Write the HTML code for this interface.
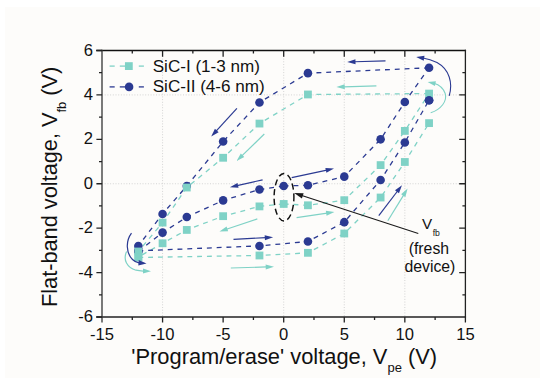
<!DOCTYPE html><html><head><meta charset="utf-8"><style>
html,body{margin:0;padding:0;background:#fff;}
body{width:550px;height:389px;overflow:hidden;position:relative;}
svg{position:absolute;left:0;top:0;}
text{font-family:"Liberation Sans",sans-serif;fill:#111;}
</style></head><body>
<svg width="550" height="389" viewBox="0 0 550 389">
<rect x="0" y="0" width="550" height="389" fill="#ffffff"/>
<rect x="5" y="7" width="535" height="371" fill="#fdfcfa"/>
<line x1="162.57" y1="50.5" x2="162.57" y2="317.0" stroke="#cdcdcd" stroke-width="0.85" stroke-dasharray="1 1.7"/>
<line x1="283.70" y1="50.5" x2="283.70" y2="317.0" stroke="#cdcdcd" stroke-width="0.85" stroke-dasharray="1 1.7"/>
<line x1="344.27" y1="50.5" x2="344.27" y2="317.0" stroke="#cdcdcd" stroke-width="0.85" stroke-dasharray="1 1.7"/>
<line x1="404.83" y1="50.5" x2="404.83" y2="317.0" stroke="#cdcdcd" stroke-width="0.85" stroke-dasharray="1 1.7"/>
<line x1="102.0" y1="94.92" x2="465.4" y2="94.92" stroke="#cdcdcd" stroke-width="0.85" stroke-dasharray="1 1.7"/>
<line x1="102.0" y1="183.75" x2="465.4" y2="183.75" stroke="#cdcdcd" stroke-width="0.85" stroke-dasharray="1 1.7"/>
<line x1="96.2" y1="50.5" x2="466.04999999999995" y2="50.5" stroke="#111" stroke-width="1.3"/>
<line x1="96.2" y1="317.0" x2="466.04999999999995" y2="317.0" stroke="#222" stroke-width="1.6"/>
<line x1="102.0" y1="49.85" x2="102.0" y2="322.6" stroke="#333" stroke-width="1.3"/>
<line x1="465.4" y1="49.85" x2="465.4" y2="322.6" stroke="#222" stroke-width="1.3"/>
<path d="M96.40 317.00H102.00M99.00 294.79H102.00M462.40 294.79H465.40M96.40 272.58H102.00M459.20 272.58H465.40M99.00 250.38H102.00M462.40 250.38H465.40M96.40 228.17H102.00M459.20 228.17H465.40M99.00 205.96H102.00M462.40 205.96H465.40M96.40 183.75H102.00M459.20 183.75H465.40M99.00 161.54H102.00M462.40 161.54H465.40M96.40 139.33H102.00M459.20 139.33H465.40M99.00 117.12H102.00M462.40 117.12H465.40M96.40 94.92H102.00M459.20 94.92H465.40M99.00 72.71H102.00M462.40 72.71H465.40M96.40 50.50H102.00M132.28 317.00V320.00M132.28 50.50V53.50M162.57 317.00V322.60M162.57 50.50V56.70M192.85 317.00V320.00M192.85 50.50V53.50M223.13 317.00V322.60M223.13 50.50V56.70M253.42 317.00V320.00M253.42 50.50V53.50M283.70 317.00V322.60M283.70 50.50V56.70M313.98 317.00V320.00M313.98 50.50V53.50M344.27 317.00V322.60M344.27 50.50V56.70M374.55 317.00V320.00M374.55 50.50V53.50M404.83 317.00V322.60M404.83 50.50V56.70M435.12 317.00V320.00M435.12 50.50V53.50" stroke="#222" stroke-width="1.3" fill="none"/>
<text x="93.1" y="322.15" font-size="16.6" text-anchor="end">-6</text>
<text x="93.1" y="277.73" font-size="16.6" text-anchor="end">-4</text>
<text x="93.1" y="233.32" font-size="16.6" text-anchor="end">-2</text>
<text x="93.1" y="188.90" font-size="16.6" text-anchor="end">0</text>
<text x="93.1" y="144.48" font-size="16.6" text-anchor="end">2</text>
<text x="93.1" y="100.07" font-size="16.6" text-anchor="end">4</text>
<text x="93.1" y="55.65" font-size="16.6" text-anchor="end">6</text>
<text x="102.00" y="339.6" font-size="16.6" text-anchor="middle">-15</text>
<text x="162.57" y="339.6" font-size="16.6" text-anchor="middle">-10</text>
<text x="223.13" y="339.6" font-size="16.6" text-anchor="middle">-5</text>
<text x="283.70" y="339.6" font-size="16.6" text-anchor="middle">0</text>
<text x="344.27" y="339.6" font-size="16.6" text-anchor="middle">5</text>
<text x="404.83" y="339.6" font-size="16.6" text-anchor="middle">10</text>
<text x="465.40" y="339.6" font-size="16.6" text-anchor="middle">15</text>
<polyline points="283.70,203.96 307.93,205.29 344.27,200.18 380.61,165.10 404.83,130.89 429.06,93.58" fill="none" stroke="#7fd2c6" stroke-width="1.3" stroke-dasharray="4.9 4.9"/>
<polyline points="429.06,93.58 307.93,94.47 259.47,123.57 223.13,157.77 186.79,187.53 162.57,222.61 138.34,251.49" fill="none" stroke="#7fd2c6" stroke-width="1.3" stroke-dasharray="4.9 4.9"/>
<polyline points="138.34,257.48 259.47,255.48 307.93,252.82 344.27,233.50 380.61,197.52 404.83,161.99 429.06,123.12" fill="none" stroke="#7fd2c6" stroke-width="1.3" stroke-dasharray="4.9 4.9"/>
<polyline points="283.70,203.96 259.47,206.40 223.13,216.17 186.79,229.94 162.57,243.27 138.34,257.04" fill="none" stroke="#7fd2c6" stroke-width="1.3" stroke-dasharray="4.9 4.9"/>
<polyline points="283.70,185.97 307.93,185.30 344.27,176.64 380.61,139.33 404.83,102.02 429.06,67.82" fill="none" stroke="#2b3a92" stroke-width="1.3" stroke-dasharray="4.9 4.9"/>
<polyline points="429.06,67.82 307.93,73.15 259.47,102.47 223.13,141.55 186.79,185.97 162.57,213.95 138.34,245.93" fill="none" stroke="#2b3a92" stroke-width="1.3" stroke-dasharray="4.9 4.9"/>
<polyline points="138.34,250.82 259.47,245.93 307.93,241.49 344.27,222.17 380.61,179.97 404.83,142.44 429.06,100.25" fill="none" stroke="#2b3a92" stroke-width="1.3" stroke-dasharray="4.9 4.9"/>
<polyline points="283.70,185.97 259.47,189.52 223.13,200.41 186.79,217.06 162.57,232.61 138.34,251.49" fill="none" stroke="#2b3a92" stroke-width="1.3" stroke-dasharray="4.9 4.9"/>
<circle cx="283.70" cy="185.97" r="4.3" fill="#2b3a92"/>
<circle cx="307.93" cy="185.30" r="4.3" fill="#2b3a92"/>
<circle cx="344.27" cy="176.64" r="4.3" fill="#2b3a92"/>
<circle cx="380.61" cy="139.33" r="4.3" fill="#2b3a92"/>
<circle cx="404.83" cy="102.02" r="4.3" fill="#2b3a92"/>
<circle cx="429.06" cy="67.82" r="4.3" fill="#2b3a92"/>
<circle cx="307.93" cy="73.15" r="4.3" fill="#2b3a92"/>
<circle cx="259.47" cy="102.47" r="4.3" fill="#2b3a92"/>
<circle cx="223.13" cy="141.55" r="4.3" fill="#2b3a92"/>
<circle cx="186.79" cy="185.97" r="4.3" fill="#2b3a92"/>
<circle cx="162.57" cy="213.95" r="4.3" fill="#2b3a92"/>
<circle cx="138.34" cy="245.93" r="4.3" fill="#2b3a92"/>
<circle cx="138.34" cy="250.82" r="4.3" fill="#2b3a92"/>
<circle cx="259.47" cy="245.93" r="4.3" fill="#2b3a92"/>
<circle cx="307.93" cy="241.49" r="4.3" fill="#2b3a92"/>
<circle cx="344.27" cy="222.17" r="4.3" fill="#2b3a92"/>
<circle cx="380.61" cy="179.97" r="4.3" fill="#2b3a92"/>
<circle cx="404.83" cy="142.44" r="4.3" fill="#2b3a92"/>
<circle cx="429.06" cy="100.25" r="4.3" fill="#2b3a92"/>
<circle cx="259.47" cy="189.52" r="4.3" fill="#2b3a92"/>
<circle cx="223.13" cy="200.41" r="4.3" fill="#2b3a92"/>
<circle cx="186.79" cy="217.06" r="4.3" fill="#2b3a92"/>
<circle cx="162.57" cy="232.61" r="4.3" fill="#2b3a92"/>
<circle cx="138.34" cy="251.49" r="4.3" fill="#2b3a92"/>
<rect x="279.80" y="200.06" width="7.8" height="7.8" fill="#7fd2c6"/>
<rect x="304.03" y="201.39" width="7.8" height="7.8" fill="#7fd2c6"/>
<rect x="340.37" y="196.28" width="7.8" height="7.8" fill="#7fd2c6"/>
<rect x="376.71" y="161.20" width="7.8" height="7.8" fill="#7fd2c6"/>
<rect x="400.93" y="126.99" width="7.8" height="7.8" fill="#7fd2c6"/>
<rect x="425.16" y="89.68" width="7.8" height="7.8" fill="#7fd2c6"/>
<rect x="304.03" y="90.57" width="7.8" height="7.8" fill="#7fd2c6"/>
<rect x="255.57" y="119.67" width="7.8" height="7.8" fill="#7fd2c6"/>
<rect x="219.23" y="153.87" width="7.8" height="7.8" fill="#7fd2c6"/>
<rect x="182.89" y="183.63" width="7.8" height="7.8" fill="#7fd2c6"/>
<rect x="158.67" y="218.71" width="7.8" height="7.8" fill="#7fd2c6"/>
<rect x="134.44" y="247.59" width="7.8" height="7.8" fill="#7fd2c6"/>
<rect x="134.44" y="253.58" width="7.8" height="7.8" fill="#7fd2c6"/>
<rect x="255.57" y="251.58" width="7.8" height="7.8" fill="#7fd2c6"/>
<rect x="304.03" y="248.92" width="7.8" height="7.8" fill="#7fd2c6"/>
<rect x="340.37" y="229.60" width="7.8" height="7.8" fill="#7fd2c6"/>
<rect x="376.71" y="193.62" width="7.8" height="7.8" fill="#7fd2c6"/>
<rect x="400.93" y="158.09" width="7.8" height="7.8" fill="#7fd2c6"/>
<rect x="425.16" y="119.22" width="7.8" height="7.8" fill="#7fd2c6"/>
<rect x="255.57" y="202.50" width="7.8" height="7.8" fill="#7fd2c6"/>
<rect x="219.23" y="212.27" width="7.8" height="7.8" fill="#7fd2c6"/>
<rect x="182.89" y="226.04" width="7.8" height="7.8" fill="#7fd2c6"/>
<rect x="158.67" y="239.37" width="7.8" height="7.8" fill="#7fd2c6"/>
<rect x="134.44" y="253.14" width="7.8" height="7.8" fill="#7fd2c6"/>
<circle cx="429.06" cy="100.25" r="4.3" fill="#2b3a92"/>
<line x1="385.50" y1="60.80" x2="354.50" y2="61.77" stroke="#2b3a92" stroke-width="1.2"/><polygon points="347.20,62.00 355.42,59.24 355.57,64.24" fill="#2b3a92"/>
<line x1="236.90" y1="108.30" x2="216.11" y2="131.20" stroke="#2b3a92" stroke-width="1.2"/><polygon points="211.20,136.60 214.93,128.77 218.63,132.14" fill="#2b3a92"/>
<line x1="262.60" y1="179.80" x2="237.02" y2="185.59" stroke="#2b3a92" stroke-width="1.2"/><polygon points="229.90,187.20 237.44,182.93 238.55,187.81" fill="#2b3a92"/>
<line x1="291.70" y1="177.60" x2="326.86" y2="170.12" stroke="#2b3a92" stroke-width="1.2"/><polygon points="334.00,168.60 326.40,172.77 325.36,167.88" fill="#2b3a92"/>
<line x1="233.50" y1="239.40" x2="265.81" y2="237.60" stroke="#2b3a92" stroke-width="1.2"/><polygon points="273.10,237.20 264.95,240.16 264.67,235.16" fill="#2b3a92"/>
<line x1="378.80" y1="215.60" x2="397.57" y2="191.00" stroke="#2b3a92" stroke-width="1.2"/><polygon points="402.00,185.20 398.95,193.31 394.98,190.28" fill="#2b3a92"/>
<line x1="376.40" y1="85.90" x2="343.70" y2="86.80" stroke="#7fd2c6" stroke-width="1.2"/><polygon points="336.40,87.00 344.63,84.27 344.77,89.27" fill="#7fd2c6"/>
<line x1="264.30" y1="134.00" x2="241.83" y2="155.90" stroke="#7fd2c6" stroke-width="1.2"/><polygon points="236.60,161.00 240.80,153.42 244.29,157.00" fill="#7fd2c6"/>
<line x1="257.30" y1="218.90" x2="226.42" y2="229.28" stroke="#7fd2c6" stroke-width="1.2"/><polygon points="219.50,231.60 226.57,226.59 228.16,231.33" fill="#7fd2c6"/>
<line x1="296.60" y1="217.60" x2="327.18" y2="213.15" stroke="#7fd2c6" stroke-width="1.2"/><polygon points="334.40,212.10 326.55,215.77 325.83,210.82" fill="#7fd2c6"/>
<line x1="230.80" y1="268.00" x2="266.70" y2="266.92" stroke="#7fd2c6" stroke-width="1.2"/><polygon points="274.00,266.70 265.78,269.45 265.63,264.45" fill="#7fd2c6"/>
<line x1="387.80" y1="220.70" x2="403.77" y2="194.81" stroke="#7fd2c6" stroke-width="1.2"/><polygon points="407.60,188.60 405.37,196.98 401.11,194.35" fill="#7fd2c6"/>
<path d="M449.2,95.8 C453,83 449.5,69.5 437,62.6 C431.5,59.8 427,58.6 423,58.0" fill="none" stroke="#2b3a92" stroke-width="1.1"/><polygon points="416.20,56.90 424.50,55.71 423.70,60.65" fill="#2b3a92"/>
<path d="M430.7,112.7 C441,109.5 447.5,101 445.2,93.5 C443,87.5 438.5,84.6 434,83.3" fill="none" stroke="#7fd2c6" stroke-width="1.1"/><polygon points="427.60,81.90 435.95,81.17 434.88,86.05" fill="#7fd2c6"/>
<path d="M131.5,233.1 C125.5,241 126,253 132.5,259.5 C134.5,261.5 136.5,262.4 139,262.8" fill="none" stroke="#2b3a92" stroke-width="1.2"/><polygon points="146.50,263.40 138.31,265.45 138.74,260.07" fill="#2b3a92"/>
<path d="M126.6,251.6 C122.8,260 127,267.5 136,270.2 C138.5,270.8 140.5,271.0 143,271.1" fill="none" stroke="#7fd2c6" stroke-width="1.2"/><polygon points="151.00,271.20 142.97,273.60 143.03,268.60" fill="#7fd2c6"/>
<ellipse cx="284.0" cy="197.2" rx="9.9" ry="23.8" fill="none" stroke="#111" stroke-width="1.45" stroke-dasharray="6.2 3.6" stroke-dashoffset="2"/>
<line x1="418.30" y1="233.50" x2="301.81" y2="195.48" stroke="#1a1a1a" stroke-width="1.05"/><polygon points="294.20,193.00 303.62,193.13 301.89,198.45" fill="#1a1a1a"/>
<line x1="109.6" y1="66.1" x2="114.7" y2="66.1" stroke="#7fd2c6" stroke-width="1.3"/>
<line x1="109.6" y1="86.9" x2="114.7" y2="86.9" stroke="#2b3a92" stroke-width="1.3"/>
<line x1="119.8" y1="66.1" x2="125.5" y2="66.1" stroke="#7fd2c6" stroke-width="1.3"/>
<line x1="119.8" y1="86.9" x2="125.5" y2="86.9" stroke="#2b3a92" stroke-width="1.3"/>
<line x1="138.8" y1="66.1" x2="143.9" y2="66.1" stroke="#7fd2c6" stroke-width="1.3"/>
<line x1="138.8" y1="86.9" x2="143.9" y2="86.9" stroke="#2b3a92" stroke-width="1.3"/>
<rect x="124.94999999999999" y="62.199999999999996" width="7.8" height="7.8" fill="#7fd2c6"/>
<circle cx="129.1" cy="86.9" r="4.3" fill="#2b3a92"/>
<text x="152.7" y="72.3" font-size="17.1">SiC-I (1-3 nm)</text>
<text x="152.7" y="92.0" font-size="17.1">SiC-II (4-6 nm)</text>
<text x="422.0" y="229.3" font-size="15.2">V<tspan font-size="8.6" dy="6.5" dx="0.5">fb</tspan></text>
<text x="428.9" y="253.8" font-size="15.8" text-anchor="middle">(fresh</text>
<text x="429.9" y="271.8" font-size="15.8" text-anchor="middle">device)</text>
<text transform="translate(131.3,363.9) scale(1.017,1)" font-size="21.5">'Program/erase' voltage, V<tspan font-size="12.8" dy="8.1">pe</tspan><tspan dy="-8.1"> (V)</tspan></text>
<text transform="translate(57,307.0) rotate(-90) scale(1.011,1)" x="0" y="0" font-size="21.5">Flat-band voltage, V<tspan font-size="12.8" dy="9.3">fb</tspan><tspan dy="-9.3"> (V)</tspan></text>
</svg></body></html>
